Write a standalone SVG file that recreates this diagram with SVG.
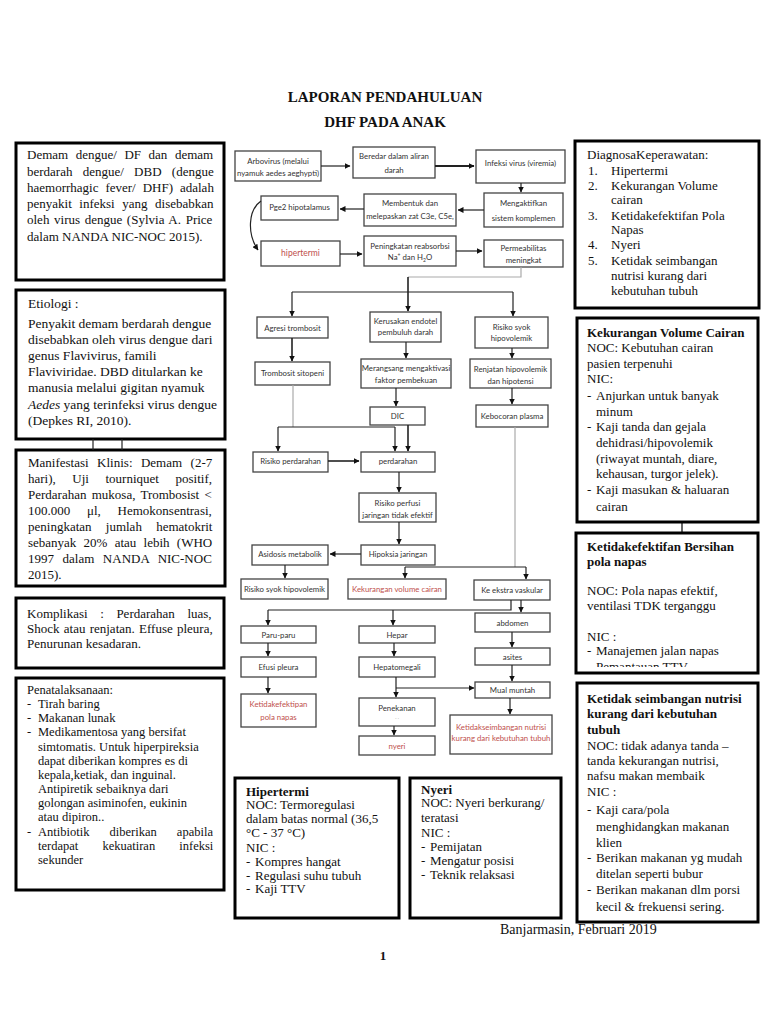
<svg xmlns="http://www.w3.org/2000/svg" width="768" height="1024" viewBox="0 0 768 1024">
<style>
.s{font-family:"Liberation Serif","Times New Roman",serif;font-size:13px;fill:#111}
.s135{font-family:"Liberation Serif","Times New Roman",serif;font-size:13.5px;fill:#111}
.s12{font-family:"Liberation Serif","Times New Roman",serif;font-size:12.5px;fill:#111}
.s13{font-family:"Liberation Serif","Times New Roman",serif;font-size:13px;fill:#111}
.b{font-weight:bold}
.bx{fill:#fff;stroke:#000;stroke-width:3}
.fb{fill:#fff;stroke:#444;stroke-width:1.3}
.f{font-family:Lato,"Liberation Sans",sans-serif;font-size:7.8px;fill:#333;text-anchor:middle}
.r{fill:#c0504d}
.c{fill:none;stroke:#222;stroke-width:1.2}
.g{fill:none;stroke:#aaa;stroke-width:1.2}
.t{font-family:"Liberation Serif","Times New Roman",serif;font-size:15px;font-weight:bold;fill:#111;text-anchor:middle}
</style>
<defs>
<marker id="ah" markerWidth="6" markerHeight="6" refX="5.5" refY="3" orient="auto" markerUnits="userSpaceOnUse"><path d="M0,0 L6,3 L0,6 z" fill="#111"/></marker>
<clipPath id="clipK"><rect x="576" y="533" width="182" height="134"/></clipPath>
</defs>
<rect width="768" height="1024" fill="#fff"/>

<text class="t" x="385" y="102">LAPORAN PENDAHULUAN</text>
<text class="t" x="385" y="127">DHF PADA ANAK</text>

<!-- Left boxes -->
<g id="definisi">
<rect class="bx" x="16" y="143" width="208" height="137"/>
<text class="s" x="27" y="159" word-spacing="4.3">Demam dengue/ DF dan demam</text>
<text class="s" x="27" y="176" word-spacing="7">berdarah dengue/ DBD (dengue</text>
<text class="s" x="27" y="192" word-spacing="3.7">haemorrhagic fever/ DHF) adalah</text>
<text class="s" x="27" y="208" word-spacing="4.3">penyakit infeksi yang disebabkan</text>
<text class="s" x="27" y="224" word-spacing="1.4">oleh virus dengue (Sylvia A. Price</text>
<text class="s" x="27" y="241">dalam NANDA NIC-NOC 2015).</text>
</g>

<g id="etiologi">
<rect class="bx" x="16" y="290" width="209" height="149"/>
<text class="s135" x="28" y="308">Etiologi :</text>
<text class="s135" x="28" y="328">Penyakit demam berdarah dengue</text>
<text class="s135" x="28" y="344">disebabkan oleh virus dengue dari</text>
<text class="s135" x="28" y="360">genus Flavivirus, famili</text>
<text class="s135" x="28" y="376">Flaviviridae. DBD ditularkan ke</text>
<text class="s135" x="28" y="392">manusia melalui gigitan nyamuk</text>
<text class="s135" x="28" y="409"><tspan font-style="italic">Aedes</tspan> yang terinfeksi virus dengue</text>
<text class="s135" x="28" y="425">(Depkes RI, 2010).</text>
</g>

<g id="manifestasi">
<rect class="bx" x="16" y="450" width="209" height="136"/>
<text class="s" x="28" y="467" word-spacing="5.2">Manifestasi Klinis: Demam (2-7</text>
<text class="s" x="28" y="483" word-spacing="13.3">hari), Uji tourniquet positif,</text>
<text class="s" x="28" y="499" word-spacing="2">Perdarahan mukosa, Trombosist &lt;</text>
<text class="s" x="28" y="515" word-spacing="13.5">100.000 μl, Hemokonsentrasi,</text>
<text class="s" x="28" y="531" word-spacing="11">peningkatan jumlah hematokrit</text>
<text class="s" x="28" y="547" word-spacing="4">sebanyak 20% atau lebih (WHO</text>
<text class="s" x="28" y="563" word-spacing="5.3">1997 dalam NANDA NIC-NOC</text>
<text class="s" x="28" y="579">2015).</text>
</g>

<g id="komplikasi">
<rect class="bx" x="16" y="598" width="208" height="70"/>
<text class="s" x="27" y="618" word-spacing="9.3">Komplikasi : Perdarahan luas,</text>
<text class="s" x="27" y="633" word-spacing="1">Shock atau renjatan. Effuse pleura,</text>
<text class="s" x="27" y="648">Penurunan kesadaran.</text>
</g>

<g id="penatalaksanaan">
<rect class="bx" x="16" y="678" width="208" height="212"/>
<text class="s12" x="27" y="694">Penatalaksanaan:</text>
<text class="s12" x="27" y="708">-</text><text class="s12" x="38" y="708">Tirah baring</text>
<text class="s12" x="27" y="722">-</text><text class="s12" x="38" y="722">Makanan lunak</text>
<text class="s12" x="27" y="736">-</text><text class="s12" x="38" y="736">Medikamentosa yang bersifat</text>
<text class="s12" x="38" y="751">simtomatis. Untuk hiperpireksia</text>
<text class="s12" x="38" y="765">dapat diberikan kompres es di</text>
<text class="s12" x="38" y="779">kepala,ketiak, dan inguinal.</text>
<text class="s12" x="38" y="793">Antipiretik sebaiknya dari</text>
<text class="s12" x="38" y="807">golongan asiminofen, eukinin</text>
<text class="s12" x="38" y="821">atau dipiron..</text>
<text class="s12" x="27" y="836">-</text><text class="s12" x="38" y="836" word-spacing="17">Antibiotik diberikan apabila</text>
<text class="s12" x="38" y="850" word-spacing="21">terdapat kekuatiran infeksi</text>
<text class="s12" x="38" y="864">sekunder</text>
</g>

<!-- Right boxes -->
<g id="diagnosa">
<rect class="bx" x="575" y="141" width="184" height="167"/>
<text class="s" x="587" y="159">DiagnosaKeperawatan:</text>
<text class="s" x="588" y="175">1.</text><text class="s" x="611" y="175">Hipertermi</text>
<text class="s" x="588" y="190">2.</text><text class="s" x="611" y="190">Kekurangan Volume</text>
<text class="s" x="611" y="204">cairan</text>
<text class="s" x="588" y="220">3.</text><text class="s" x="611" y="220">Ketidakefektifan Pola</text>
<text class="s" x="611" y="234">Napas</text>
<text class="s" x="588" y="249">4.</text><text class="s" x="611" y="249">Nyeri</text>
<text class="s" x="588" y="265">5.</text><text class="s" x="611" y="265">Ketidak seimbangan</text>
<text class="s" x="611" y="280">nutrisi kurang dari</text>
<text class="s" x="611" y="295">kebutuhan tubuh</text>
</g>

<g id="kekurangan-volume">
<rect class="bx" x="577" y="318" width="181" height="204"/>
<text class="s b" x="587" y="337">Kekurangan Volume Cairan</text>
<text class="s" x="587" y="352">NOC: Kebutuhan cairan</text>
<text class="s" x="587" y="368">pasien terpenuhi</text>
<text class="s" x="587" y="383">NIC:</text>
<text class="s" x="587" y="400">-</text><text class="s" x="596" y="400">Anjurkan untuk banyak</text>
<text class="s" x="596" y="416">minum</text>
<text class="s" x="587" y="431">-</text><text class="s" x="596" y="431">Kaji tanda dan gejala</text>
<text class="s" x="596" y="447">dehidrasi/hipovolemik</text>
<text class="s" x="596" y="463">(riwayat muntah, diare,</text>
<text class="s" x="596" y="478">kehausan, turgor jelek).</text>
<text class="s" x="587" y="494">-</text><text class="s" x="596" y="494">Kaji masukan &amp; haluaran</text>
<text class="s" x="596" y="511">cairan</text>
</g>

<line x1="682" y1="522" x2="682" y2="533" stroke="#000" stroke-width="1.2"/>

<g id="ketidakefektifan">
<rect class="bx" x="576" y="533" width="182" height="140"/>
<g clip-path="url(#clipK)">
<text class="s b" x="587" y="551">Ketidakefektifan Bersihan</text>
<text class="s b" x="587" y="566">pola napas</text>
<text class="s" x="587" y="595">NOC: Pola napas efektif,</text>
<text class="s" x="587" y="610">ventilasi TDK terganggu</text>
<text class="s" x="587" y="641">NIC :</text>
<text class="s" x="587" y="655">-</text><text class="s" x="596" y="655">Manajemen jalan napas</text>
<text class="s" x="587" y="671">-</text><text class="s" x="596" y="671">Pemantauan TTV</text>
</g>
</g>

<text class="s" x="500" y="934" style="font-size:14px">Banjarmasin, Februari 2019</text>

<g id="ketidakseimbangan">
<rect class="bx" x="577" y="683" width="181" height="239"/>
<text class="s b" x="587" y="703">Ketidak seimbangan nutrisi</text>
<text class="s b" x="587" y="718">kurang dari kebutuhan</text>
<text class="s b" x="587" y="734">tubuh</text>
<text class="s" x="587" y="750">NOC: tidak adanya tanda –</text>
<text class="s" x="587" y="765">tanda kekurangan nutrisi,</text>
<text class="s" x="587" y="780">nafsu makan membaik</text>
<text class="s" x="587" y="796">NIC :</text>
<text class="s" x="587" y="814">-</text><text class="s" x="596" y="814">Kaji cara/pola</text>
<text class="s" x="596" y="831">menghidangkan makanan</text>
<text class="s" x="596" y="847">klien</text>
<text class="s" x="587" y="862">-</text><text class="s" x="596" y="862">Berikan makanan yg mudah</text>
<text class="s" x="596" y="878">ditelan seperti bubur</text>
<text class="s" x="587" y="894">-</text><text class="s" x="596" y="894">Berikan makanan dlm porsi</text>
<text class="s" x="596" y="911">kecil &amp; frekuensi sering.</text>
</g>

<!-- Bottom boxes -->
<g id="hipertermi-plan">
<rect class="bx" x="235" y="778" width="164" height="140"/>
<text class="s13 b" x="246" y="796">Hipertermi</text>
<text class="s13" x="246" y="809">NOC: Termoregulasi</text>
<text class="s13" x="246" y="823">dalam batas normal (36,5</text>
<text class="s13" x="246" y="837">°C - 37 °C)</text>
<text class="s13" x="246" y="852">NIC :</text>
<text class="s13" x="246" y="866">-</text><text class="s13" x="255" y="866">Kompres hangat</text>
<text class="s13" x="246" y="880">-</text><text class="s13" x="255" y="880">Regulasi suhu tubuh</text>
<text class="s13" x="246" y="893">-</text><text class="s13" x="255" y="893">Kaji TTV</text>
</g>

<g id="nyeri-plan">
<rect class="bx" x="410" y="778" width="151" height="140"/>
<text class="s13 b" x="421" y="794">Nyeri</text>
<text class="s13" x="421" y="807">NOC: Nyeri berkurang/</text>
<text class="s13" x="421" y="822">teratasi</text>
<text class="s13" x="421" y="837">NIC :</text>
<text class="s13" x="421" y="851">-</text><text class="s13" x="430" y="851">Pemijatan</text>
<text class="s13" x="421" y="865">-</text><text class="s13" x="430" y="865">Mengatur posisi</text>
<text class="s13" x="421" y="879">-</text><text class="s13" x="430" y="879">Teknik relaksasi</text>
</g>

<text class="s b" x="383" y="960" text-anchor="middle">1</text>

<!-- Flowchart nodes -->
<g id="arbovirus"><rect class="fb" x="235" y="151" width="86" height="30"/><text class="f" x="278" y="163.5">Arbovirus (melalui</text><text class="f" x="278" y="175.5">nyamuk aedes aeghypti)</text></g>
<g id="beredar"><rect class="fb" x="353" y="147" width="82" height="31"/><text class="f" x="394" y="158.5">Beredar dalam aliran</text><text class="f" x="394" y="172.5">darah</text></g>
<g id="infeksi"><rect class="fb" x="476" y="150" width="89" height="33"/><text class="f" x="520.5" y="165.5">Infeksi virus (viremia)</text></g>
<g id="mengaktifkan"><rect class="fb" x="484" y="193" width="79" height="34"/><text class="f" x="523.5" y="205.5">Mengaktifkan</text><text class="f" x="523.5" y="220.5">sistem komplemen</text></g>
<g id="membentuk"><rect class="fb" x="364" y="194" width="92" height="32"/><text class="f" x="410" y="205.5">Membentuk dan</text><text class="f" x="410" y="218.5">melepaskan  zat C3e, C5e,</text></g>
<g id="pge2"><rect class="fb" x="261" y="196" width="77" height="24"/><text class="f" x="299.5" y="209.5">Pge2 hipotalamus</text></g>
<g id="hipertermi"><rect class="fb" x="261" y="241" width="79" height="25"/><text class="f r" x="300.5" y="256" style="font-size:8.5px">hipertermi</text></g>
<g id="peningkatan"><rect class="fb" x="364" y="236" width="92" height="30"/><text class="f" x="410" y="248.5">Peningkatan reabsorbsi</text><text class="f" x="410" y="260">Na<tspan font-size="5" dy="-3">+</tspan><tspan dy="3"> dan H</tspan><tspan font-size="5" dy="2">2</tspan><tspan dy="-2">O</tspan></text></g>
<g id="permeabilitas"><rect class="fb" x="484" y="240" width="79" height="27"/><text class="f" x="523.5" y="250.5">Permeabilitas</text><text class="f" x="523.5" y="262.5">meningkat</text></g>

<g id="agresi"><rect class="fb" x="257" y="317" width="71" height="21"/><text class="f" x="292.5" y="330.5">Agresi trombosit</text></g>
<g id="trombosit"><rect class="fb" x="255" y="362" width="75" height="23"/><text class="f" x="292.5" y="375.5">Trombosit sitopeni</text></g>
<g id="kerusakan"><rect class="fb" x="370" y="312" width="71" height="30"/><text class="f" x="405.5" y="323.5">Kerusakan endotel</text><text class="f" x="405.5" y="334.5">pembuluh darah</text></g>
<g id="merangsang"><rect class="fb" x="361" y="359" width="90" height="29"/><text class="f" x="406" y="370.5">Merangsang mengaktivasi</text><text class="f" x="406" y="382.5">faktor pembekuan</text></g>
<g id="dic"><rect class="fb" x="370" y="407" width="55" height="18"/><text class="f" x="397.5" y="418.5">DIC</text></g>
<g id="risiko-syok"><rect class="fb" x="475" y="317" width="73" height="31"/><text class="f" x="511.5" y="329.5">Risiko syok</text><text class="f" x="511.5" y="340.5">hipovolemik</text></g>
<g id="renjatan"><rect class="fb" x="470" y="359" width="81" height="29"/><text class="f" x="510.5" y="371.5">Renjatan hipovolemik</text><text class="f" x="510.5" y="384">dan hipotensi</text></g>
<g id="kebocoran"><rect class="fb" x="476" y="405" width="72" height="22"/><text class="f" x="512" y="418.5">Kebocoran plasma</text></g>

<g id="risiko-perdarahan"><rect class="fb" x="253" y="452" width="75" height="20"/><text class="f" x="290.5" y="464">Risiko perdarahan</text></g>
<g id="perdarahan"><rect class="fb" x="361" y="452" width="74" height="20"/><text class="f" x="398" y="464">perdarahan</text></g>
<g id="risiko-perfusi"><rect class="fb" x="359" y="493" width="77" height="29"/><text class="f" x="397.5" y="505.5">Risiko perfusi</text><text class="f" x="397.5" y="517.5">jaringan tidak efektif</text></g>
<g id="hipoksia"><rect class="fb" x="361" y="545" width="74" height="20"/><text class="f" x="398" y="557">Hipoksia jaringan</text></g>
<g id="asidosis"><rect class="fb" x="252" y="545" width="76" height="20"/><text class="f" x="290" y="557">Asidosis metabolik</text></g>
<g id="risiko-syok-2"><rect class="fb" x="241" y="579" width="87" height="20"/><text class="f" x="284.5" y="591.5">Risiko syok hipovolemik</text></g>
<g id="kekurangan-volume-node"><rect class="fb" x="348" y="579" width="98" height="20"/><text class="f r" x="397" y="591.5">Kekurangan volume cairan</text></g>
<g id="ekstra-vaskular"><rect class="fb" x="474" y="580" width="76" height="20"/><text class="f" x="512" y="592.5">Ke ekstra vaskular</text></g>

<g id="abdomen"><rect class="fb" x="475" y="613" width="75" height="19"/><text class="f" x="512.5" y="625.5">abdomen</text></g>
<g id="asites"><rect class="fb" x="475" y="648" width="75" height="17"/><text class="f" x="512.5" y="659.5">asites</text></g>
<g id="mual"><rect class="fb" x="475" y="682" width="75" height="16"/><text class="f" x="512.5" y="693">Mual muntah</text></g>
<g id="ketidakseimbangan-node"><rect class="fb" x="450" y="715" width="102" height="39"/><text class="f r" x="501" y="729.5">Ketidakseimbangan nutrisi</text><text class="f r" x="501" y="741">kurang dari kebutuhan tubuh</text></g>
<g id="paru"><rect class="fb" x="241" y="626" width="75" height="17"/><text class="f" x="278.5" y="637.5">Paru-paru</text></g>
<g id="efusi"><rect class="fb" x="241" y="657" width="75" height="20"/><text class="f" x="278.5" y="669.5">Efusi pleura</text></g>
<g id="ketidakefektipan-node"><rect class="fb" x="241" y="694" width="75" height="33"/><text class="f r" x="278.5" y="706.5">Ketidakefektipan</text><text class="f r" x="278.5" y="719.5">pola napas</text></g>
<g id="hepar"><rect class="fb" x="359" y="626" width="76" height="17"/><text class="f" x="397" y="637.5">Hepar</text></g>
<g id="hepatomegali"><rect class="fb" x="359" y="657" width="76" height="20"/><text class="f" x="397" y="669.5">Hepatomegali</text></g>
<g id="penekanan"><rect class="fb" x="359" y="698" width="76" height="28"/><text class="f" x="397" y="710.5">Penekanan</text><text class="f" x="397" y="719" style="font-size:5px;fill:#999">. .</text></g>
<g id="nyeri-node"><rect class="fb" x="359" y="736" width="76" height="19"/><text class="f r" x="397" y="748.5">nyeri</text></g>

<!-- Connectors -->
<g id="connectors">
<line class="c" x1="321" y1="166" x2="350" y2="166" marker-end="url(#ah)"/>
<line class="c" x1="435" y1="166" x2="474" y2="166" style="stroke-width:2" marker-end="url(#ah)"/>
<line class="c" x1="521" y1="183" x2="521" y2="192" marker-end="url(#ah)"/>
<line class="c" x1="484" y1="210" x2="458" y2="210" marker-end="url(#ah)"/>
<line class="c" x1="364" y1="209" x2="340" y2="209" marker-end="url(#ah)"/>
<path class="c" d="M261,201 C248,210 247,234 258,250" marker-end="url(#ah)"/>
<line class="c" x1="340" y1="254" x2="362" y2="254" marker-end="url(#ah)"/>
<line class="c" x1="456" y1="251" x2="482" y2="251" marker-end="url(#ah)"/>
<polyline class="g" points="521,267 521,277 408,277"/>
<line class="c" x1="408" y1="277" x2="408" y2="292" style="stroke-width:1.6"/>
<line class="c" x1="292" y1="292" x2="513" y2="292"/>
<line class="c" x1="292" y1="292" x2="292" y2="316" marker-end="url(#ah)"/>
<line class="c" x1="408" y1="292" x2="408" y2="311" style="stroke-width:1.6" marker-end="url(#ah)"/>
<line class="c" x1="513" y1="292" x2="513" y2="316" marker-end="url(#ah)"/>
<line class="c" x1="292" y1="338" x2="292" y2="361" style="stroke-width:1.6" marker-end="url(#ah)"/>
<line class="c" x1="406" y1="342" x2="406" y2="358" marker-end="url(#ah)"/>
<line class="c" x1="396" y1="388" x2="396" y2="406" marker-end="url(#ah)"/>
<line class="c" x1="512" y1="348" x2="512" y2="358" marker-end="url(#ah)"/>
<line class="c" x1="512" y1="388" x2="512" y2="404" marker-end="url(#ah)"/>
<line class="g" x1="293" y1="385" x2="293" y2="427"/>
<line class="c" x1="278" y1="427" x2="395" y2="427"/>
<line class="c" x1="278" y1="427" x2="278" y2="451" marker-end="url(#ah)"/>
<line class="c" x1="395" y1="427" x2="395" y2="451" marker-end="url(#ah)"/>
<line class="c" x1="408" y1="425" x2="408" y2="451" style="stroke-width:1.6" marker-end="url(#ah)"/>
<line class="g" x1="515" y1="427" x2="515" y2="567"/>
<line class="c" x1="328" y1="461" x2="359" y2="461" style="stroke-width:1.6" marker-end="url(#ah)"/>
<line class="c" x1="399" y1="472" x2="399" y2="492" marker-end="url(#ah)"/>
<line class="c" x1="399" y1="522" x2="399" y2="544" marker-end="url(#ah)"/>
<line class="c" x1="361" y1="554" x2="330" y2="554" marker-end="url(#ah)"/>
<line class="c" x1="285" y1="565" x2="285" y2="578" marker-end="url(#ah)"/>
<line class="c" x1="405" y1="567" x2="526" y2="567"/>
<line class="c" x1="405" y1="567" x2="405" y2="578" marker-end="url(#ah)"/>
<line class="c" x1="526" y1="567" x2="526" y2="579" marker-end="url(#ah)"/>
<polyline class="c" points="511,600 511,610 268,610"/>
<line class="c" x1="268" y1="610" x2="268" y2="625" marker-end="url(#ah)"/>
<line class="c" x1="393" y1="610" x2="393" y2="625" marker-end="url(#ah)"/>
<line class="c" x1="521" y1="600" x2="521" y2="612" marker-end="url(#ah)"/>
<line class="c" x1="512" y1="632" x2="512" y2="647" marker-end="url(#ah)"/>
<line class="c" x1="512" y1="665" x2="512" y2="681" marker-end="url(#ah)"/>
<line class="c" x1="510" y1="698" x2="510" y2="714" marker-end="url(#ah)"/>
<line class="c" x1="268" y1="643" x2="268" y2="656" marker-end="url(#ah)"/>
<line class="c" x1="268" y1="677" x2="268" y2="693" marker-end="url(#ah)"/>
<line class="c" x1="394" y1="643" x2="394" y2="656" marker-end="url(#ah)"/>
<line class="c" x1="396" y1="677" x2="396" y2="697" marker-end="url(#ah)"/>
<line class="c" x1="396" y1="688" x2="474" y2="688" marker-end="url(#ah)"/>
<line class="c" x1="394" y1="726" x2="394" y2="735" marker-end="url(#ah)"/>
<line class="c" x1="93" y1="439" x2="93" y2="450"/>
<line class="c" x1="122" y1="439" x2="122" y2="450"/>
</g>
</svg>
